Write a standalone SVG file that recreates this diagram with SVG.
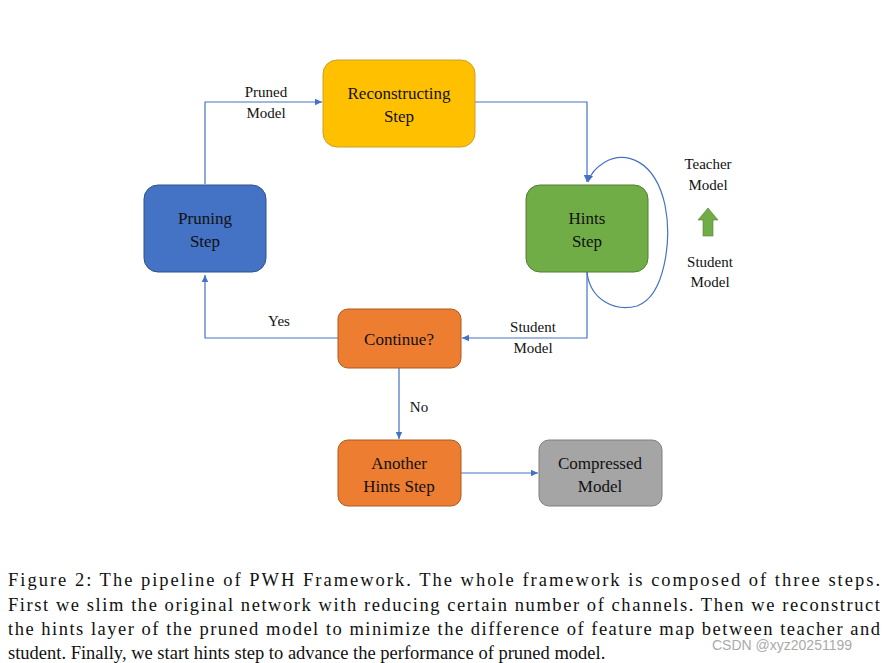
<svg xmlns="http://www.w3.org/2000/svg" width="891" height="663" viewBox="0 0 891 663">
<style>
.n{font-size:17px;text-anchor:middle}
.l{font-size:15px;text-anchor:middle}
.c{font-size:18.5px}
.e{fill:none;stroke:#4472c4;stroke-width:1.2}
.b{stroke-width:1}
</style>
<defs><marker id="a" markerWidth="8" markerHeight="8" refX="7" refY="4" orient="auto" markerUnits="userSpaceOnUse"><path d="M0,0.8L7,4L0,7.2z" fill="#4472c4"/></marker></defs>
<rect width="891" height="663" fill="#fff"/>
<g id="connectors">
<path class="e" d="M205,184V102H322" marker-end="url(#a)"/>
<path class="e" d="M475,102H587V182" marker-end="url(#a)"/>
<path class="e" d="M587,272C590,300 615,312 637,306C665,296 672,240 665,205C655,160 625,150 605,162C595,168 590,175 588,182" marker-end="url(#a)"/>
<path class="e" d="M587,272V338H462" marker-end="url(#a)"/>
<path class="e" d="M338,338H205V275" marker-end="url(#a)"/>
<path class="e" d="M399,368V439" marker-end="url(#a)"/>
<path class="e" d="M461,473H538" marker-end="url(#a)"/>
</g>
<g font-family="Liberation Serif, Times New Roman, serif" fill="#111">
<g id="reconstructing"><rect class="b" x="323" y="60" width="152" height="87" rx="14" fill="#ffc000" stroke="#c9a227"/><text class="n" x="399" y="99">Reconstructing</text><text class="n" x="399" y="122">Step</text></g>
<g id="pruning"><rect class="b" x="144" y="185" width="122" height="87" rx="14" fill="#4472c4" stroke="#2f528f"/><text class="n" x="205" y="224">Pruning</text><text class="n" x="205" y="247">Step</text></g>
<g id="hints"><rect class="b" x="526" y="185" width="122" height="87" rx="14" fill="#70ad47" stroke="#507e32"/><text class="n" x="587" y="224">Hints</text><text class="n" x="587" y="247">Step</text></g>
<g id="continue"><rect class="b" x="338" y="309" width="123" height="59" rx="10" fill="#ed7d31" stroke="#ae5a21"/><text class="n" x="399" y="345">Continue?</text></g>
<g id="another"><rect class="b" x="338" y="440" width="123" height="66" rx="10" fill="#ed7d31" stroke="#ae5a21"/><text class="n" x="399" y="469">Another</text><text class="n" x="399" y="492">Hints Step</text></g>
<g id="compressed"><rect class="b" x="539" y="440" width="123" height="66" rx="10" fill="#a5a5a5" stroke="#7f7f7f"/><text class="n" x="600" y="469">Compressed</text><text class="n" x="600" y="492">Model</text></g>
<g id="labels">
<text class="l" x="266" y="97">Pruned</text><text class="l" x="266" y="118">Model</text>
<text class="l" x="708" y="169">Teacher</text><text class="l" x="708" y="190">Model</text>
<text class="l" x="710" y="267">Student</text><text class="l" x="710" y="287">Model</text>
<text class="l" x="533" y="332">Student</text><text class="l" x="533" y="353">Model</text>
<text class="l" x="279" y="326">Yes</text>
<text class="l" x="419" y="412">No</text>
</g>
<g id="caption">
<text class="c" x="8" y="586" textLength="872" lengthAdjust="spacing">Figure 2: The pipeline of PWH Framework.  The whole framework is composed of three steps.</text>
<text class="c" x="8" y="611" textLength="872" lengthAdjust="spacing">First we slim the original network with reducing certain number of channels.  Then we reconstruct</text>
<text class="c" x="8" y="635" textLength="872" lengthAdjust="spacing">the hints layer of the pruned model to minimize the difference of feature map between teacher and</text>
<text class="c" x="8" y="659">student. Finally, we start hints step to advance the performance of pruned model.</text>
</g>
</g>
<path d="M703,236V220H698L708,208L718,220H713V236Z" fill="#70ad47" stroke="#507e32" stroke-width="0.6"/>
<text x="712" y="650" font-family="Liberation Sans, Arial, sans-serif" font-size="14" fill="#aaa">CSDN @xyz20251199</text>
</svg>
